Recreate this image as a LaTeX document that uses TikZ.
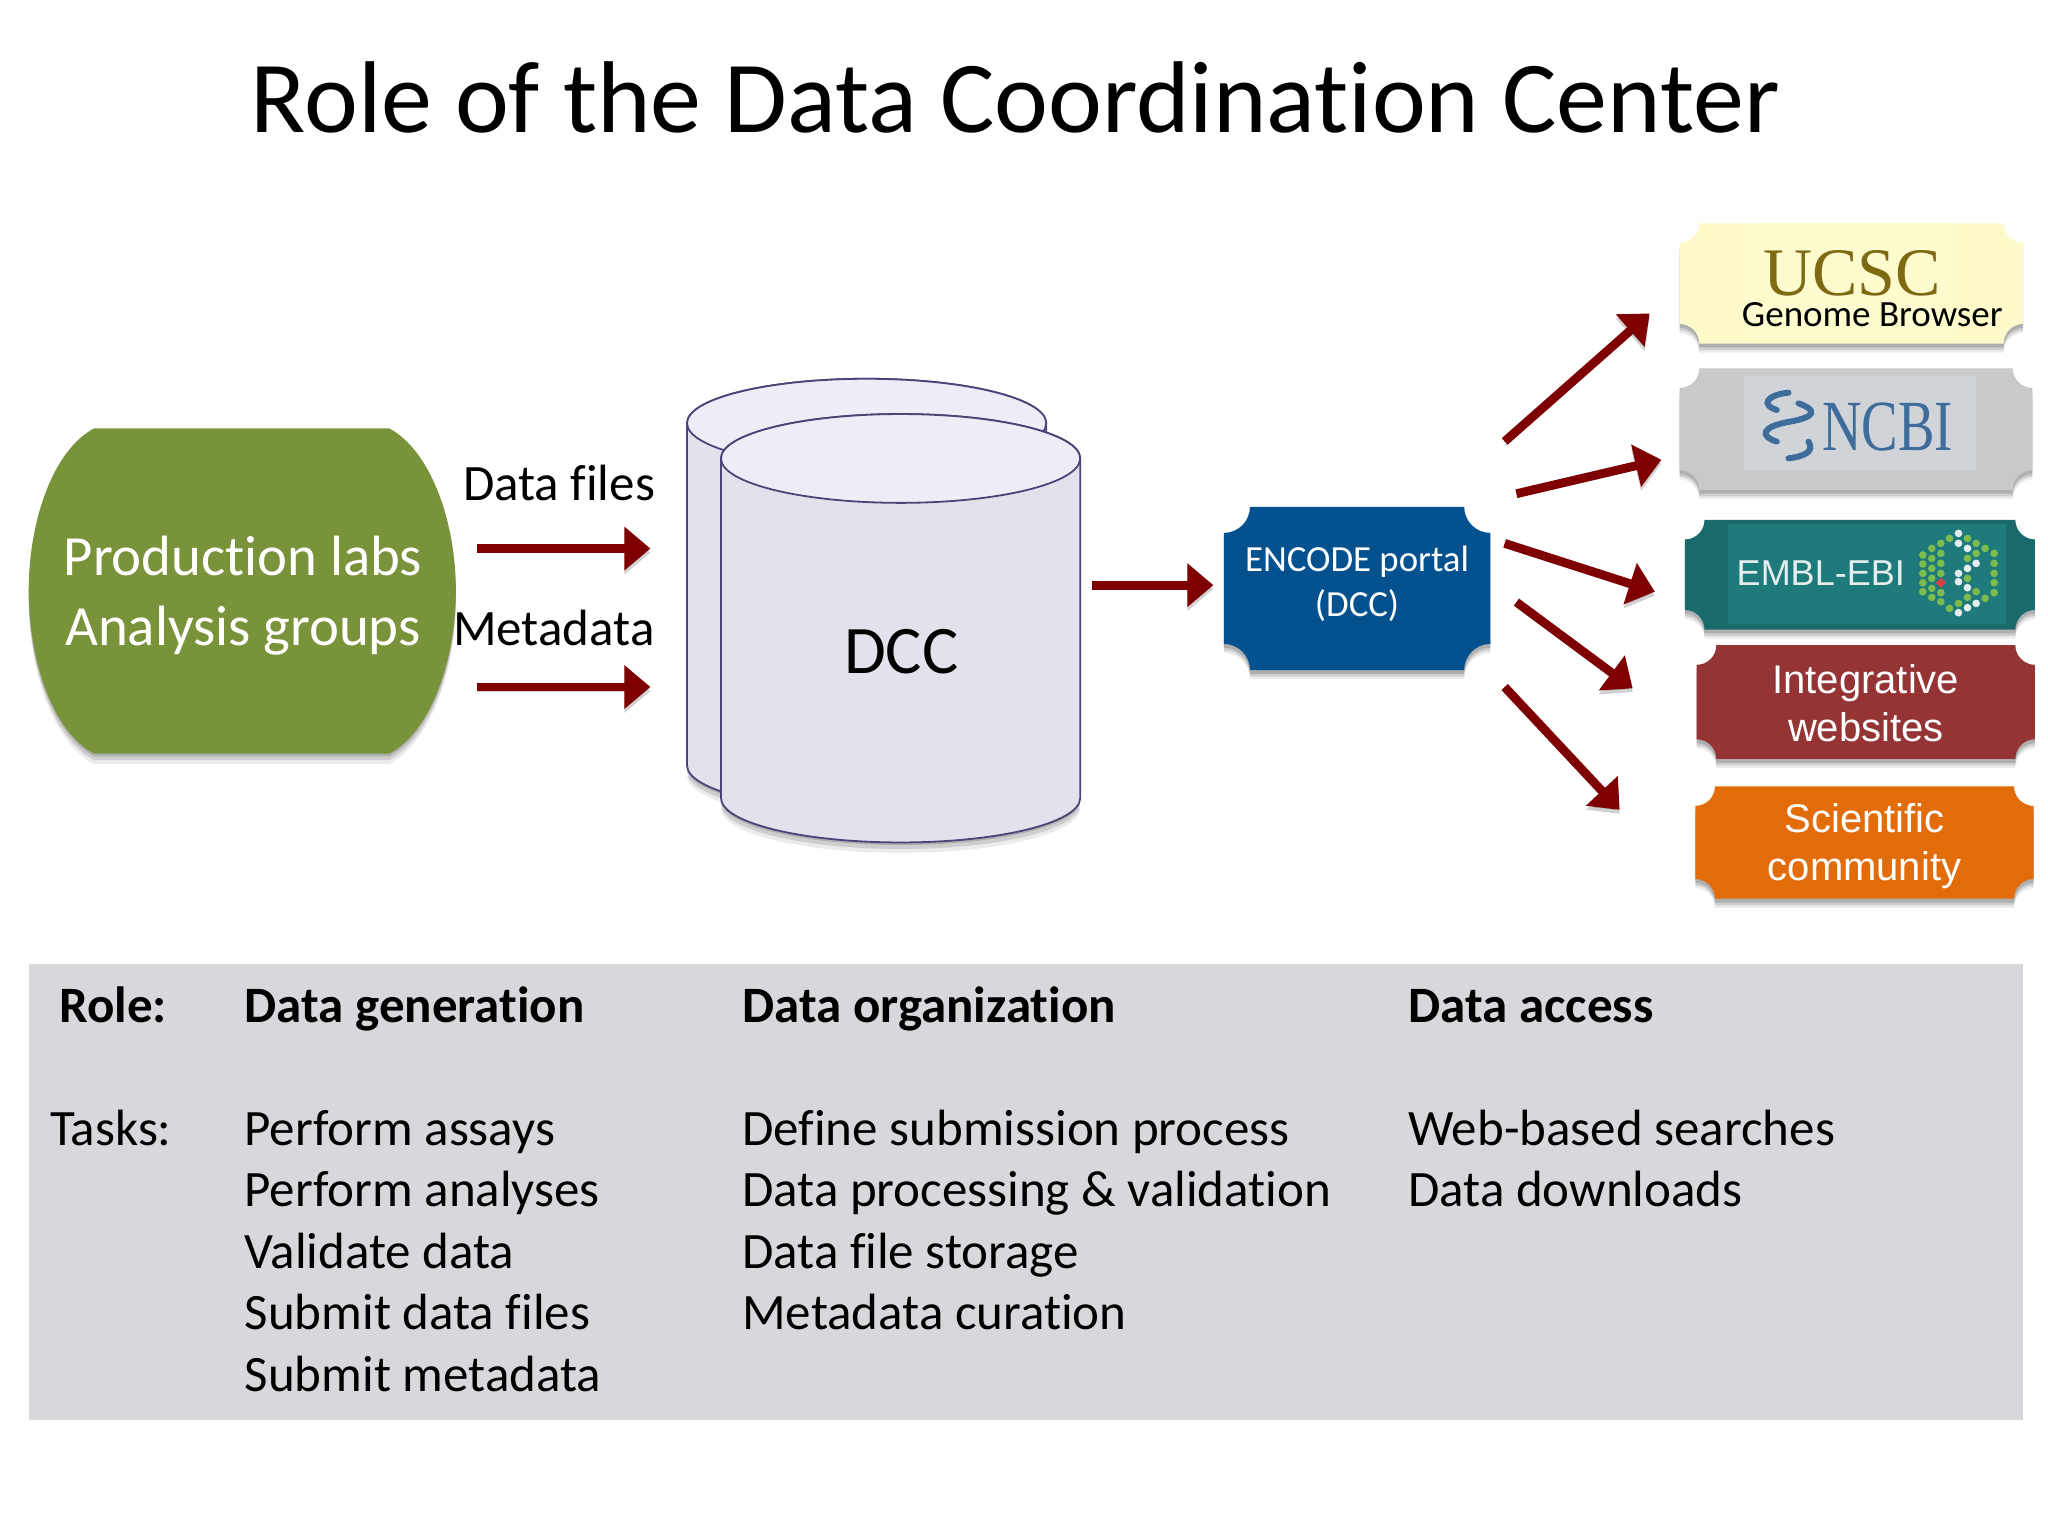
\documentclass[tikz,border=0pt]{standalone}
\usepackage{fontspec}
\setmainfont{Carlito}[Ligatures={NoCommon}]
\newfontfamily\arialfont{Liberation Sans}
\newfontfamily\logofont{Liberation Serif}
\usetikzlibrary{arrows.meta}
\definecolor{arrowred}{HTML}{7F0000}
\definecolor{labgreen}{HTML}{79933B}
\definecolor{drumbody}{HTML}{E4E0EC}
\definecolor{drumtop}{HTML}{F0ECF7}
\definecolor{drumline}{HTML}{4B4478}
\definecolor{portalblue}{HTML}{03528F}
\definecolor{panelgray}{HTML}{D9D7DB}
\definecolor{ucscfill}{HTML}{FDF9C8}
\definecolor{ucscinner}{HTML}{FEFBCF}
\definecolor{ucscolive}{HTML}{7D6A12}
\definecolor{ncbifill}{HTML}{C8C9CB}
\definecolor{ncbiinner}{HTML}{D0D4D9}
\definecolor{ncbiblue}{HTML}{3E6C9B}
\definecolor{emblfill}{HTML}{1A6A6B}
\definecolor{emblinner}{HTML}{1F7A7B}
\definecolor{embldot}{HTML}{7CBB4E}
\definecolor{emblwhite}{HTML}{E4EEEE}
\definecolor{emblred}{HTML}{D9403F}
\definecolor{integrfill}{HTML}{943434}
\definecolor{sciencefill}{HTML}{E36C0A}
\tikzset{
  flow/.style={draw=arrowred, line width=4.4pt, -{Triangle[length=13pt,width=21pt]},
    preaction={draw=black, opacity=.18, transform canvas={yshift=-2pt}}},
  panelhead/.style={anchor=base west, inner sep=0pt, font=\fontsize{25.5}{30}\selectfont\bfseries},
  paneltext/.style={anchor=base west, inner sep=0pt, font=\fontsize{25.5}{30}\selectfont},
  plaquetext/.style={text=white, align=center, inner sep=0pt, font=\arialfont\fontsize{20}{24}\selectfont},
  edgelabel/.style={inner sep=0pt, font=\fontsize{25.5}{30}\selectfont}
}
% plaque: name, x1, y1, x2, y2, corner, colour
\newcommand{\plaque}[7]{
  \foreach \off/\op in {7/0.08,5/0.12,3/0.15}
    \fill [black, opacity=\op, yshift=-\off*0.653pt] (#2+#6,-#3) -- (#4-#6,-#3) arc (180:270:#6) -- (#4,-#5+#6) arc (90:180:#6) -- (#2+#6,-#5) arc (0:90:#6) -- (#2,-#3-#6) arc (270:360:#6) -- cycle;
  \fill [#7] (#2+#6,-#3) -- (#4-#6,-#3) arc (180:270:#6) -- (#4,-#5+#6) arc (90:180:#6) -- (#2+#6,-#5) arc (0:90:#6) -- (#2,-#3-#6) arc (270:360:#6) -- cycle;
  \coordinate (#1) at ({(#2+#4)/2},{-(#3+#5)/2});
}
% drum: x1, x2, top centre, bottom centre
\newcommand{\drum}[4]{
  \foreach \off/\op in {8/0.08,5/0.12,2/0.15}
    \fill [black, opacity=\op, yshift=-\off*0.653pt] (#1,-#4) arc (180:360:{(#2-#1)/2} and 34) -- cycle;
  \filldraw [fill=drumbody, draw=drumline, line width=0.9pt] (#1,-#3) -- (#1,-#4) arc (180:360:{(#2-#1)/2} and 34) -- (#2,-#3) arc (0:180:{(#2-#1)/2} and 34) -- cycle;
  \filldraw [fill=drumtop, draw=drumline, line width=0.9pt] ({(#1+#2)/2},-#3) ellipse ({(#2-#1)/2} and 34);
}
\begin{document}
\begin{tikzpicture}[x=0.65306pt,y=0.65306pt]
\useasboundingbox (0,0) rectangle (1568,-1176);
\fill [white] (0,0) rectangle (1568,-1176);
\node (title) at (777.5,-74.5) [inner sep=0pt, font=\fontsize{51}{60}\selectfont] {Role of the Data Coordination Center};
% labs
\foreach \off/\op in {8/0.08,5/0.12,2/0.15}
  \fill [black, opacity=\op, yshift=-\off*0.653pt] (72,-328) -- (298,-328) .. controls (330,-345) and (349,-400) .. (349,-452) .. controls (349,-505) and (330,-560) .. (298,-577) -- (72,-577) .. controls (40,-560) and (22,-505) .. (22,-452) .. controls (22,-400) and (40,-345) .. (72,-328) -- cycle;
\fill [labgreen] (72,-328) -- (298,-328) .. controls (330,-345) and (349,-400) .. (349,-452) .. controls (349,-505) and (330,-560) .. (298,-577) -- (72,-577) .. controls (40,-560) and (22,-505) .. (22,-452) .. controls (22,-400) and (40,-345) .. (72,-328) -- cycle;
\node (labs) at (186,-456) [text=white, align=center, inner sep=0pt, font=\fontsize{28.4}{34.6}\selectfont] {Production labs\\Analysis groups};
\node (datafiles) at (428,-370) [edgelabel] {Data files};
\node (metadata) at (424,-481) [edgelabel] {Metadata};
% drums
\drum{526}{801}{324}{586}
\drum{552}{827}{351}{611}
\node (dcc) at (690,-499) [inner sep=0pt, font=\fontsize{34}{40}\selectfont] {DCC};
% portal
\plaque{portal}{937}{388}{1141}{513}{20}{portalblue}
\node (portaltext) at (1039,-447) [text=white, align=center, inner sep=0pt, font=\fontsize{18.4}{22.2}\selectfont] {ENCODE portal\\(DCC)};
% targets
\plaque{ucsc}{1286}{171}{1549}{263}{15}{ucscfill}
\fill [ucscinner] (1337,-171) rectangle (1495,-258);
\node (ucsclogo) at (1418,-209) [inner sep=0pt, text=ucscolive, font=\logofont\fontsize{34}{40}\selectfont] {UCSC};
\node (browser) at (1433.5,-241) [inner sep=0pt, font=\fontsize{18.5}{22}\selectfont] {Genome Browser};
\plaque{ncbi}{1286}{282}{1556}{375}{15}{ncbifill}
\fill [ncbiinner] (1335,-288) rectangle (1513,-360);
\node (ncbilogo) at (1445,-327) [inner sep=0pt, text=ncbiblue, font=\logofont\fontsize{36}{40}\selectfont, xscale=0.76] {NCBI};
\begin{scope}[shift={(1225.1,-153.1)}, scale=0.2552, line width=3pt, draw=ncbiblue, line cap=round]
\draw (565,-578) .. controls (500,-585) and (480,-615) .. (530,-630);
\draw (595,-610) .. controls (650,-630) and (650,-650) .. (570,-665) .. controls (480,-680) and (480,-710) .. (530,-725);
\draw (625,-725) .. controls (645,-755) and (610,-770) .. (565,-775);
\end{scope}
\plaque{embl}{1290}{398}{1558}{482}{15}{emblfill}
\fill [emblinner] (1323,-401) rectangle (1536,-478);
\node (embllogo) at (1394,-439) [inner sep=0pt, text=emblwhite, font=\arialfont\fontsize{18}{22}\selectfont] {EMBL-EBI};
\begin{scope}[shift={(1225.1,-390.5)}, scale=0.2552]
\foreach \dx/\dy in {968/135,968/162,968/190,968/218,968/245,995/115,995/145,995/175,995/205,995/235,995/262,1022/100,1022/130,1022/160,1022/190,1022/248,1022/275,1048/85,1048/295,1075/280,1102/85,1102/145,1102/205,1102/262,1128/100,1128/130,1128/245,1155/115,1155/265,1182/130,1182/160,1182/190,1182/218,1182/248}
  \fill [embldot] (\dx,-\dy) circle (11.5);
\foreach \dx/\dy in {1075/70,1075/100,1075/190,1075/215,1075/308,1102/115,1102/175,1102/233,1102/293,1128/160,1128/280}
  \fill [emblwhite] (\dx,-\dy) circle (11.5);
\fill [emblred] (1022,-203) -- (1037,-218) -- (1022,-233) -- (1007,-218) -- cycle;
\end{scope}
\plaque{integr}{1299}{494}{1558}{581}{15}{integrfill}
\node (integrtext) at (1428.5,-538.5) [plaquetext] {Integrative\\websites};
\plaque{science}{1298}{602}{1557}{688}{15}{sciencefill}
\node (sciencetext) at (1427.5,-648) [plaquetext] {Scientific\\community};
% arrows
\coordinate (a1s) at (365,-420);
\coordinate (a1e) at (498,-420);
\coordinate (a2s) at (365,-526);
\coordinate (a2e) at (498,-526);
\coordinate (a3s) at (836,-448);
\coordinate (a3e) at (929,-448);
\coordinate (o1s) at (1152,-338);
\coordinate (o1e) at (1263,-240);
\coordinate (o2s) at (1161,-378);
\coordinate (o2e) at (1272,-352);
\coordinate (o3s) at (1152,-416);
\coordinate (o3e) at (1267,-453);
\coordinate (o4s) at (1161,-461);
\coordinate (o4e) at (1250,-527);
\coordinate (o5s) at (1152,-526);
\coordinate (o5e) at (1240,-620);
\foreach \s/\e in {a1s/a1e,a2s/a2e,a3s/a3e,o1s/o1e,o2s/o2e,o3s/o3e,o4s/o4e,o5s/o5e}
  \draw [flow] (\s) -- (\e);
% panel
\fill [panelgray] (22,-738) rectangle (1549,-1087);
\node (role) at (45,-783) [panelhead] {Role:};
\node (tasks) at (38,-877) [paneltext] {Tasks:};
\node (head1) at (187,-783) [panelhead] {Data generation};
\node (head2) at (568,-783) [panelhead] {Data organization};
\node (head3) at (1078,-783) [panelhead] {Data access};
\foreach \txt [count=\i] in {Perform assays,Perform analyses,Validate data,Submit data files,Submit metadata}
  \node (gen\i) at (187,-830-47*\i) [paneltext] {\txt};
\foreach \txt [count=\i] in {Define submission process,Data processing \& validation,Data file storage,Metadata curation}
  \node (org\i) at (568,-830-47*\i) [paneltext] {\txt};
\foreach \txt [count=\i] in {Web-based searches,Data downloads}
  \node (acc\i) at (1078,-830-47*\i) [paneltext] {\txt};
\end{tikzpicture}
\end{document}
